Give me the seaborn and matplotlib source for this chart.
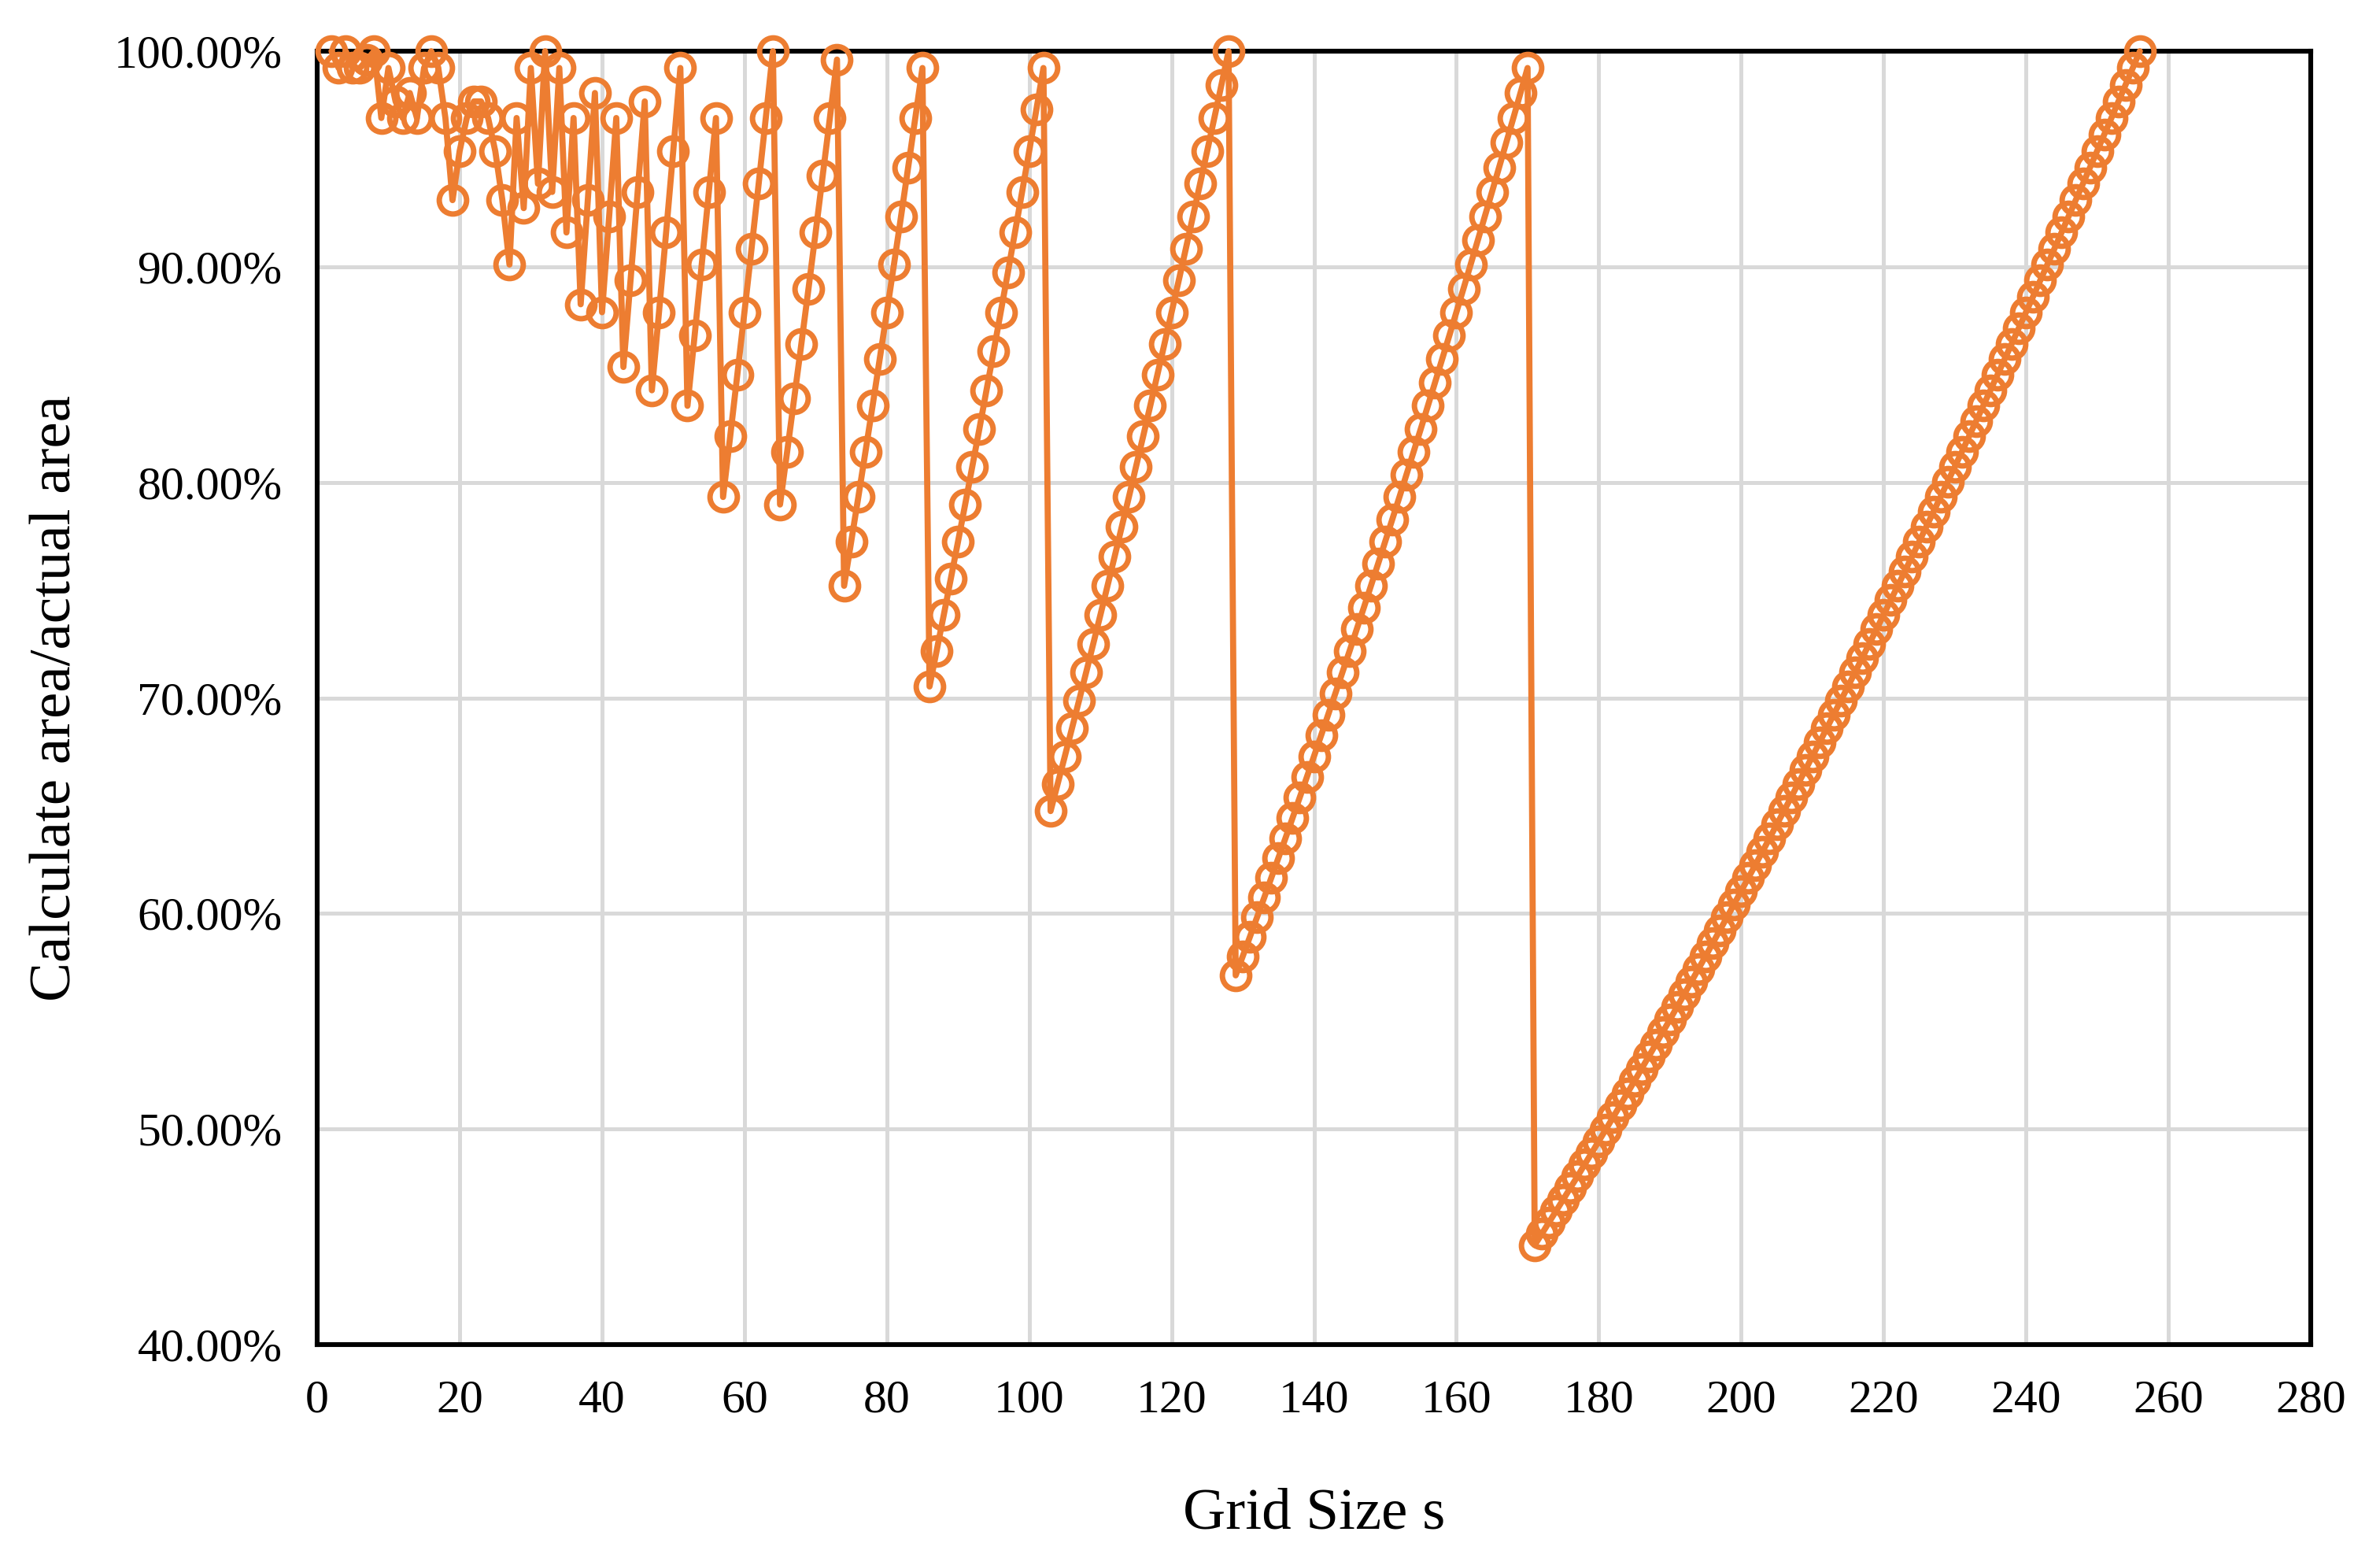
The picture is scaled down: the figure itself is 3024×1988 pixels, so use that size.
import numpy as np
import matplotlib
matplotlib.use("Agg")
import matplotlib.pyplot as plt
import seaborn as sns
import pandas as pd
from matplotlib.ticker import FuncFormatter, MultipleLocator

# grid size s, 2..256
grid_size = np.arange(2, 257)

# calculated area / actual area, in percent (s = 2..256)
area_ratio = [
    100.00, 99.22, 100.00, 99.22, 99.22, 99.61, 100.00, 96.90, 99.22,
    97.67, 96.90, 98.06, 96.90, 99.22, 100.00, 99.22, 96.90, 93.09, 95.37,
    96.90, 97.67, 97.67, 96.90, 95.37, 93.09, 90.10, 96.90, 92.72, 99.22,
    93.85, 100.00, 93.47, 99.22, 91.59, 96.90, 88.26, 93.09, 98.06, 87.89,
    92.34, 96.90, 85.35, 89.36, 93.47, 97.67, 84.27, 87.89, 91.59, 95.37,
    99.22, 83.55, 86.80, 90.10, 93.47, 96.90, 79.32, 82.13, 84.99, 87.89,
    90.84, 93.85, 96.90, 100.00, 78.97, 81.42, 83.91, 86.43, 88.99, 91.59,
    94.23, 96.90, 99.61, 75.20, 77.25, 79.32, 81.42, 83.55, 85.71, 87.89,
    90.10, 92.34, 94.61, 96.90, 99.22, 70.53, 72.18, 73.85, 75.54, 77.25,
    78.97, 80.72, 82.48, 84.27, 86.07, 87.89, 89.73, 91.59, 93.47, 95.37,
    97.28, 99.22, 64.75, 66.02, 67.29, 68.58, 69.88, 71.19, 72.52, 73.85,
    75.20, 76.56, 77.94, 79.32, 80.72, 82.13, 83.55, 84.99, 86.43, 87.89,
    89.36, 90.84, 92.34, 93.85, 95.37, 96.90, 98.44, 100.00, 57.13, 58.02,
    58.92, 59.82, 60.73, 61.65, 62.57, 63.50, 64.44, 65.38, 66.33, 67.29,
    68.26, 69.23, 70.21, 71.19, 72.18, 73.18, 74.19, 75.20, 76.22, 77.25,
    78.28, 79.32, 80.37, 81.42, 82.48, 83.55, 84.63, 85.71, 86.80, 87.89,
    88.99, 90.10, 91.22, 92.34, 93.47, 94.61, 95.75, 96.90, 98.06, 99.22,
    44.62, 45.14, 45.67, 46.20, 46.73, 47.27, 47.80, 48.35, 48.89, 49.44,
    49.99, 50.54, 51.10, 51.66, 52.22, 52.79, 53.36, 53.93, 54.51, 55.08,
    55.67, 56.25, 56.84, 57.43, 58.02, 58.62, 59.22, 59.82, 60.43, 61.04,
    61.65, 62.26, 62.88, 63.50, 64.13, 64.75, 65.38, 66.02, 66.65, 67.29,
    67.93, 68.58, 69.23, 69.88, 70.53, 71.19, 71.85, 72.52, 73.18, 73.85,
    74.53, 75.20, 75.88, 76.56, 77.25, 77.94, 78.63, 79.32, 80.02, 80.72,
    81.42, 82.13, 82.84, 83.55, 84.27, 84.99, 85.71, 86.43, 87.16, 87.89,
    88.62, 89.36, 90.10, 90.84, 91.59, 92.34, 93.09, 93.85, 94.61, 95.37,
    96.13, 96.90, 97.67, 98.44, 99.22, 100.00,
]

df = pd.DataFrame({"Grid Size s": grid_size, "ratio": area_ratio})

sns.set_theme(style="whitegrid")
plt.rcParams['font.family'] = ['Liberation Serif', 'DejaVu Serif']
plt.rcParams['text.color'] = 'black'
plt.rcParams['axes.labelcolor'] = 'black'

fig = plt.figure(figsize=(15.12, 9.94), dpi=200)
ax = fig.add_axes([0.1333, 0.1408, 0.8376, 0.8265])

orange = "#ED7D31"
sns.lineplot(data=df, x="Grid Size s", y="ratio", ax=ax, color=orange,
             linewidth=2.8, marker="o", markersize=12.5,
             markerfacecolor="none", markeredgecolor=orange,
             markeredgewidth=2.5, clip_on=False, zorder=5)

ax.set_xlim(0, 280)
ax.set_ylim(40, 100)
ax.xaxis.set_major_locator(MultipleLocator(20))
ax.yaxis.set_major_locator(MultipleLocator(10))
ax.yaxis.set_major_formatter(FuncFormatter(lambda v, p: f"{v:.2f}%"))

ax.grid(True, color="#D9D9D9", linewidth=1.8)
ax.set_axisbelow(True)
for sp in ax.spines.values():
    sp.set_color("black")
    sp.set_linewidth(2.2)
    sp.set_zorder(4)

ax.tick_params(axis="both", length=0, labelsize=21.5, colors="black")
ax.tick_params(axis="x", pad=16)
ax.tick_params(axis="y", pad=16)

ax.set_xlabel("Grid Size s", fontsize=27, labelpad=30, color="black")
ax.set_ylabel("Calculate area/actual area", fontsize=27, labelpad=14, color="black")

fig.savefig("out.png", dpi=200, facecolor="white")
